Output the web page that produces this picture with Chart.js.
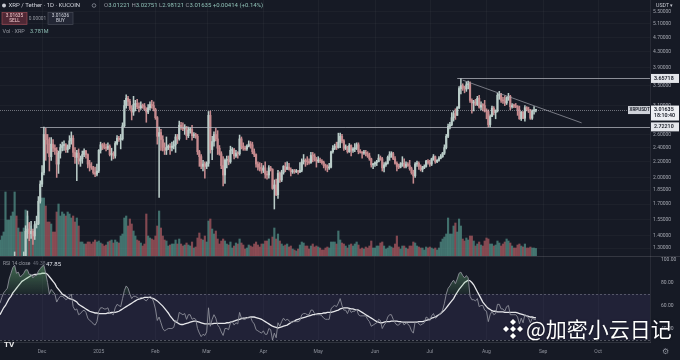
<!DOCTYPE html>
<html>
<head>
<meta charset="utf-8">
<script src="https://cdn.jsdelivr.net/npm/chart.js@4.4.1/dist/chart.umd.min.js"></script>
<style>
  html, body { margin: 0; padding: 0; background: #161a25; }
  #wrap { position: relative; width: 680px; height: 360px; overflow: hidden; background: #161a25; }
  canvas { position: absolute; left: 0; }
  #main { top: 0; }
  #rsi { top: 256px; }
</style>
</head>
<body>
<div id="wrap">
  <canvas id="main" width="680" height="256"></canvas>
  <canvas id="rsi" width="680" height="104"></canvas>
</div>
<script>
// daily XRP/USDT candles, index 0 = 2024-11-08, last = 2025-08-28
const open = [
  .545,.555,.594,.613,.63,.64,.72,.80,.99,1.13,1.07,1.13,1.08,1.11,1.20,1.44,1.46,1.42,1.44,1.40,1.50,1.51,1.73,
  1.92,2.06,2.60,2.52,2.45,2.27,2.45,2.39,2.36,2.17,2.32,2.40,2.43,2.44,2.37,2.41,2.50,2.54,2.33,2.26,2.32,2.21,2.24,2.30,2.35,2.30,2.17,2.14,2.12,2.06,2.04,
  2.08,2.36,2.44,2.43,2.40,2.39,2.42,2.30,2.31,2.28,2.46,2.54,2.52,2.53,2.74,3.10,3.24,3.18,3.05,2.98,3.12,3.14,3.08,3.06,3.10,3.09,3.03,2.98,3.06,3.12,3.10,
  3.03,2.88,2.57,2.63,2.52,2.40,2.36,2.40,2.42,2.40,2.42,2.44,2.56,2.53,2.75,2.71,2.69,2.72,2.58,2.67,2.68,2.58,2.60,2.57,2.34,2.27,2.14,2.17,
  2.14,2.18,2.92,2.37,2.49,2.60,2.53,2.39,2.31,2.15,2.03,2.22,2.23,2.20,2.36,2.37,2.28,2.32,2.31,2.53,2.42,2.39,2.38,2.42,2.45,2.44,2.34,2.30,2.17,2.13,2.11,
  2.09,2.12,2.04,2.03,2.12,2.10,1.87,1.91,1.80,2.05,1.97,2.06,2.14,2.10,2.13,2.10,2.07,2.08,2.07,2.08,2.07,2.09,2.20,2.22,2.21,2.20,2.19,2.29,2.28,2.23,
  2.21,2.22,2.21,2.19,2.15,2.14,2.12,2.13,2.34,2.39,2.42,2.40,2.48,2.57,2.50,2.39,2.41,2.34,2.43,2.36,2.38,2.39,2.44,2.34,2.33,2.32,2.33,2.31,2.28,2.24,2.16,
  2.17,2.19,2.20,2.25,2.24,2.12,2.16,2.18,2.26,2.30,2.31,2.24,2.18,2.14,2.13,2.17,2.18,2.14,2.17,2.15,2.11,2.06,2.02,2.17,2.18,2.14,2.10,2.12,2.14,2.21,
  2.19,2.17,2.24,2.27,2.20,2.22,2.25,2.27,2.32,2.40,2.57,2.73,2.76,2.88,2.95,2.92,3.06,3.44,3.50,3.46,3.43,3.52,3.54,3.20,3.15,3.16,3.12,3.24,3.07,3.11,3.10,
  3.00,2.99,2.76,2.90,3.05,2.97,3.00,3.30,3.31,3.20,3.19,3.15,3.25,3.28,3.08,3.10,3.09,3.08,3.02,2.86,2.98,2.87,3.06,3.03,3.00,2.87,3.00,3.01221
];
const high = [
  .57,.60,.64,.66,.68,.75,.84,1.03,1.27,1.16,1.19,1.16,1.15,1.27,1.49,1.63,1.52,1.53,1.46,1.53,1.58,1.78,1.96,
  2.15,2.72,2.70,2.60,2.55,2.55,2.52,2.44,2.40,2.35,2.45,2.48,2.50,2.46,2.44,2.58,2.64,2.58,2.40,2.36,2.38,2.28,2.35,2.38,2.36,2.31,2.22,2.19,2.14,2.13,2.17,
  2.37,2.48,2.46,2.47,2.45,2.47,2.44,2.39,2.34,2.49,2.58,2.57,2.60,2.79,3.20,3.31,3.28,3.22,3.10,3.28,3.20,3.22,3.15,3.17,3.13,3.14,3.06,3.12,3.17,3.20,3.17,
  3.05,2.90,2.72,2.68,2.58,2.47,2.56,2.44,2.46,2.48,2.50,2.60,2.60,2.82,2.80,2.79,2.76,2.73,2.72,2.71,2.75,2.63,2.62,2.60,2.36,2.30,2.22,2.20,
  2.20,2.99,3.00,2.57,2.64,2.70,2.66,2.43,2.34,2.27,2.24,2.28,2.28,2.42,2.40,2.39,2.36,2.34,2.59,2.56,2.47,2.42,2.44,2.50,2.49,2.48,2.38,2.31,2.20,2.19,2.18,
  2.15,2.20,2.08,2.15,2.14,2.11,1.97,1.98,2.09,2.07,2.09,2.15,2.19,2.20,2.18,2.12,2.10,2.10,2.10,2.09,2.19,2.24,2.30,2.24,2.27,2.24,2.33,2.33,2.31,2.26,
  2.27,2.25,2.23,2.21,2.17,2.16,2.18,2.35,2.43,2.45,2.48,2.62,2.62,2.60,2.52,2.44,2.42,2.46,2.44,2.40,2.46,2.47,2.47,2.37,2.34,2.36,2.36,2.34,2.32,2.25,2.18,
  2.20,2.22,2.30,2.28,2.26,2.19,2.20,2.28,2.34,2.34,2.33,2.27,2.20,2.17,2.19,2.27,2.24,2.20,2.19,2.22,2.13,2.09,2.19,2.21,2.20,2.16,2.14,2.16,2.22,2.23,
  2.22,2.25,2.30,2.28,2.23,2.27,2.30,2.33,2.44,2.60,2.77,2.80,2.97,3.00,3.04,3.08,3.48,3.657,3.54,3.49,3.58,3.60,3.58,3.23,3.20,3.22,3.28,3.30,3.17,3.14,3.20,
  3.04,3.02,2.93,3.09,3.08,3.02,3.34,3.38,3.34,3.26,3.29,3.27,3.34,3.30,3.14,3.13,3.14,3.10,3.09,2.99,2.99,3.10,3.08,3.07,3.03,3.02,3.08,3.02751
];
const low = [
  .535,.55,.58,.60,.60,.63,.70,.78,.95,1.01,1.03,1.04,1.07,1.09,1.18,1.38,1.36,1.38,1.33,1.37,1.47,1.50,1.71,
  1.89,2.03,2.22,2.32,2.08,2.22,2.34,2.30,2.00,2.05,2.25,2.35,2.36,2.33,2.33,2.38,2.45,2.27,2.18,1.96,2.17,2.14,2.18,2.27,2.25,2.12,2.08,2.10,2.04,2.01,2.02,
  2.06,2.32,2.37,2.38,2.35,2.37,2.28,2.22,2.24,2.25,2.44,2.49,2.38,2.51,2.72,3.05,3.10,3.02,2.84,2.92,3.00,3.04,2.98,3.03,3.05,3.01,2.80,2.95,3.02,3.05,3.00,
  2.85,2.45,1.77,2.36,2.35,2.30,2.30,2.37,2.30,2.35,2.38,2.33,2.46,2.51,2.68,2.66,2.60,2.52,2.55,2.62,2.51,2.55,2.54,2.30,2.14,2.11,2.08,1.99,
  2.11,2.14,2.32,2.23,2.42,2.50,2.30,2.29,2.11,1.90,1.93,2.12,2.16,2.18,2.31,2.24,2.26,2.25,2.29,2.38,2.36,2.36,2.36,2.41,2.39,2.31,2.27,2.13,2.09,2.08,2.05,
  2.06,1.99,1.98,1.99,2.08,1.86,1.65,1.79,1.76,1.94,1.95,2.04,2.07,2.10,2.09,2.02,2.05,2.05,2.06,2.04,2.06,2.07,2.17,2.14,2.16,2.17,2.18,2.20,2.21,2.13,
  2.19,2.19,2.17,2.12,2.09,2.07,2.10,2.12,2.32,2.37,2.37,2.39,2.40,2.47,2.36,2.37,2.32,2.33,2.28,2.33,2.34,2.37,2.31,2.32,2.25,2.30,2.28,2.26,2.22,2.13,2.11,
  2.14,2.15,2.20,2.22,2.08,2.07,2.14,2.17,2.22,2.26,2.23,2.17,2.08,2.11,2.12,2.14,2.12,2.12,2.14,2.09,2.04,1.93,2.00,2.14,2.10,2.08,2.07,2.11,2.13,2.17,
  2.14,2.15,2.22,2.18,2.19,2.21,2.24,2.26,2.30,2.38,2.55,2.69,2.74,2.82,2.85,2.92,3.04,3.33,3.40,3.35,3.38,3.43,3.16,2.96,3.00,3.10,3.10,3.05,3.02,3.00,2.98,
  2.86,2.72,2.72,2.90,2.93,2.86,2.98,3.22,3.16,3.14,3.10,3.12,3.20,3.02,3.05,3.06,3.06,2.92,2.85,2.83,2.86,2.82,3.00,2.97,2.85,2.85,2.94,2.98121
];
const close = [
  .555,.594,.613,.63,.64,.72,.80,.99,1.13,1.07,1.13,1.08,1.11,1.20,1.44,1.46,1.42,1.44,1.40,1.50,1.51,1.73,1.92,
  2.06,2.60,2.52,2.45,2.27,2.45,2.39,2.36,2.17,2.32,2.40,2.43,2.44,2.37,2.41,2.50,2.54,2.33,2.26,2.32,2.21,2.24,2.30,2.35,2.30,2.17,2.14,2.12,2.06,2.04,2.08,
  2.36,2.44,2.43,2.40,2.39,2.42,2.30,2.31,2.28,2.46,2.54,2.52,2.53,2.74,3.10,3.24,3.18,3.05,2.98,3.12,3.14,3.08,3.06,3.10,3.09,3.03,2.98,3.06,3.12,3.10,3.03,
  2.88,2.57,2.63,2.52,2.40,2.36,2.40,2.42,2.40,2.42,2.44,2.56,2.53,2.75,2.71,2.69,2.72,2.58,2.67,2.68,2.58,2.60,2.57,2.34,2.27,2.14,2.17,2.14,
  2.18,2.92,2.37,2.49,2.60,2.53,2.39,2.31,2.15,2.03,2.22,2.23,2.20,2.36,2.37,2.28,2.32,2.31,2.53,2.42,2.39,2.38,2.42,2.45,2.44,2.34,2.30,2.17,2.13,2.11,2.09,
  2.12,2.04,2.03,2.12,2.10,1.87,1.91,1.80,2.05,1.97,2.06,2.14,2.10,2.13,2.10,2.07,2.08,2.07,2.08,2.07,2.09,2.20,2.22,2.21,2.20,2.19,2.29,2.28,2.23,2.21,
  2.22,2.21,2.19,2.15,2.14,2.12,2.13,2.34,2.39,2.42,2.40,2.48,2.57,2.50,2.39,2.41,2.34,2.43,2.36,2.38,2.39,2.44,2.34,2.33,2.32,2.33,2.31,2.28,2.24,2.16,2.17,
  2.19,2.20,2.25,2.24,2.12,2.16,2.18,2.26,2.30,2.31,2.24,2.18,2.14,2.13,2.17,2.18,2.14,2.17,2.15,2.11,2.06,2.02,2.17,2.18,2.14,2.10,2.12,2.14,2.21,2.19,
  2.17,2.24,2.27,2.20,2.22,2.25,2.27,2.32,2.40,2.57,2.73,2.76,2.88,2.95,2.92,3.06,3.44,3.50,3.46,3.43,3.52,3.54,3.20,3.15,3.16,3.12,3.24,3.07,3.11,3.10,3.00,
  2.99,2.76,2.90,3.05,2.97,3.00,3.30,3.31,3.20,3.19,3.15,3.25,3.28,3.08,3.10,3.09,3.08,3.02,2.86,2.98,2.87,3.06,3.03,3.00,2.87,3.00,3.01221,3.01635
];
// volume, millions XRP
const volume = [
  8,10,12,32,18,18,20,22,32,20,14,12,12,14,23,20,16,15,12,12,15,22,27,
  29,29,25,17,17,16,12,12,22,26,20,22,21,20,22,21,19,20,17,19,15,7,7,6,6,7,7,6,7,8,7,
  7.5,6.5,6,5,5.5,7,7.5,8,6.5,8,7,6.5,10,11,19,20,15,18.5,16,12.5,10,8,7.5,6.5,5,6,21,10,9,8.5,8,
  10,15,22.5,14,10,8,7.5,5,5.5,6,6,8,6,8.5,6,5,5.5,6.5,5.5,5,7,4,4.5,9,11.5,8.5,8,10,
  7,17.5,18.5,13.5,11,12.5,8.5,6,7.5,8.5,7.5,6,5.5,7,4,5,6.5,6,8.5,6.5,5.5,3.5,4,5.5,5,4.5,6,7,5.5,4.5,6,
  6,7.5,7.5,8.5,5,9.5,14,8.5,11,7.5,6,5,5.5,6,4.5,5,3.5,3,2.5,3.5,5.5,7,6.5,5,5,3.5,5,6,4.5,5,
  4.5,4,3,3,4,4.5,4,7,7,7,6,12.5,8,6.5,6,5,4,5.5,6,5,6,7,5.5,3.5,4,3.5,4.5,4,5,7.5,4,
  4,5,5,6.5,7,5,3.5,4,5,4.5,4,6,10,4.5,3.5,5,5,4,3.5,5,5,7,6.5,5,4.5,4,4,3,4.5,4,
  4.5,4,3.5,4,3,4,7,8.5,9.5,11,19,11,11,15,16.5,12,18.5,15,8.5,7.5,9,8,10,10,7.5,5,6,7,5.5,5,7.5,
  9,8.5,6,6,5,5.5,7.5,6.5,5,6,7,8.5,7.5,6.5,5,4,4,5.5,6,5,4.5,6,4,4,4.5,4,4,3.78
];
const rsi = [
  62,67,71,73,75,83,88,93,95,88,89,85,86,88,91,91,87,87,84,86,86,90,92,
  94,95,88,80,70,74,72,70,63,66,68,68,67,65,66,68,70,59,56,57,52,53,55,56,54,49,47,46,44,43,46,
  55,58,58,57,57,58,53,53,52,58,61,60,59,66,73,77,75,70,66,68,68,67,66,67,67,65,64,66,68,67,63,
  57,47,50,45,40,38,39,40,40,40,41,47,46,54,53,52,53,48,52,52,48,49,48,40,36,33,35,34,
  37,58,42,48,52,49,43,41,37,34,40,40,39,45,46,43,45,44,54,49,48,48,49,50,50,46,44,39,38,37,36,
  38,35,35,40,39,30,36,32,45,42,46,49,47,48,47,45,46,46,46,46,47,52,53,53,52,52,56,56,53,52,
  52,52,51,49,48,48,48,57,59,60,59,62,66,60,56,56,53,57,54,55,55,57,52,51,51,51,51,48,46,42,43,
  44,45,48,47,40,43,45,50,52,52,48,45,43,43,45,46,43,45,44,42,38,36,46,46,44,43,44,45,50,49,
  47,51,53,49,50,52,53,56,62,70,75,77,80,82,79,83,88,89,86,84,86,84,68,65,65,64,66,59,60,60,56,
  55,46,52,55,52,53,61,61,57,57,55,59,60,52,52,52,52,50,44,49,45,52,51,49,45,49,48,47.85
];
const rsiMa = [
  52,55,58,60,63,66,68,71,73,75,77,79,81,82,83,84,85,86,86.5,87,87,87.5,87.5,
  88,88,88,87,85,83,81,79,76,74,72,70,69,68,67,66,65.5,65,64,63,61,60,59,58,57,56,55,54.5,54,53.5,53.5,
  53,53,53,53,53,53.5,53.5,54,54,54,54.5,55,56,57,58,59,60,61,62,63,64,65,65.5,66,66.5,67,67,67,67,66.5,66,
  65,64,62.5,61,59.5,57.5,55.5,53.5,51,49,47,46,45,44,43.5,43.5,44,44.5,45,45.5,46,46.5,46.5,46,45.5,45,44.5,44,
  44,44,44,44,44.5,44.5,44.5,44.5,44.5,44.5,44.5,45,45,45.5,46,46.5,47,47.5,48,48.5,49,49,49.5,49.5,50,50,50,49.5,49,48.5,48,
  47,46,45,44,43,42,41.5,41,40.5,41,41.5,42,42.5,43,44,45,46,46.5,47.5,48,48.5,49,49.5,50,50.5,51,51.5,52,52,52.5,
  53,53,53,53.5,53.5,54,54,54,54.5,55,55.5,56,57,57.5,58,58,58,57.5,57,57,56.5,56.5,56,55,54,53,52,51,50,49,48,
  47,46,45.5,45,45,45.5,46,46,46,46.5,46.5,46.5,46.5,46,46,45.5,45.5,45.5,45.5,45.5,45.5,45.5,45.5,45.5,46,46,46,46.5,47,47.5,
  48,49,49.5,50,51,52,53,54.5,56,58,60,62,64,66,69,71.5,74,76,78,80,81,82,81.5,80,78,75,72,69,66,63,61,
  59,57.5,56.5,55.5,55,55,54.5,54.5,54.5,54.5,54,54,54,54,54,54,54,53.5,53,52.5,52,51.5,51,50.5,50,50,49.5,49.38
];

const monthTicks = [23, 54, 85, 113, 144, 174, 205, 235, 266, 297, 327];
const monthLabels = ['Dec', '2025', 'Feb', 'Mar', 'Apr', 'May', 'Jun', 'Jul', 'Aug', 'Sep', 'Oct'];
const priceTicks = [5.5, 5.1, 4.7, 4.3, 3.9, 3.5, 3.1, 2.6, 2.4, 2.2, 2.0, 1.85, 1.7, 1.55, 1.4, 1.3];
const rsiTicks = [100, 80, 60, 40];

// drawings on the chart
const rayPrices = [2.7221, 3.65718];
const rayStarts = [22, 250];
const trendIdx = [253, 318];
const trendPrice = [3.62, 2.79];
const lastPrice = 3.01635;

const X_MAX = 355.4;
const FONT = "Roboto, 'Noto Sans', sans-serif";
const upC = '#b9ccc8', downC = '#c68a8e';
const isUp = i => close[i] >= open[i];
const candleColors = close.map((c, i) => isUp(i) ? upC : downC);

const mainOverlay = {
  id: 'mainOverlay',
  beforeDatasetsDraw(chart) {
    const { ctx, chartArea: a, scales: { x } } = chart;
    ctx.save();
    ctx.strokeStyle = 'rgba(255,255,255,0.035)';
    ctx.lineWidth = 1;
    monthTicks.forEach(t => {
      const px = Math.round(x.getPixelForValue(t)) + 0.5;
      ctx.beginPath(); ctx.moveTo(px, a.top); ctx.lineTo(px, a.bottom); ctx.stroke();
    });
    ctx.restore();
  },
  afterDatasetsDraw(chart) {
    const { ctx, chartArea: a, scales: { x, y } } = chart;
    ctx.save();
    ctx.lineWidth = 1;
    ctx.strokeStyle = 'rgba(190,192,200,0.7)';
    rayPrices.forEach((p, k) => {
      const py = Math.round(y.getPixelForValue(p)) + 0.5;
      ctx.beginPath(); ctx.moveTo(x.getPixelForValue(rayStarts[k]), py); ctx.lineTo(a.right, py); ctx.stroke();
    });
    ctx.strokeStyle = 'rgba(170,172,182,0.65)';
    ctx.beginPath();
    ctx.moveTo(x.getPixelForValue(trendIdx[0]), y.getPixelForValue(trendPrice[0]));
    ctx.lineTo(x.getPixelForValue(trendIdx[1]), y.getPixelForValue(trendPrice[1]));
    ctx.stroke();
    const lp = Math.round(y.getPixelForValue(lastPrice)) + 0.5;
    ctx.strokeStyle = 'rgba(200,202,210,0.5)';
    ctx.setLineDash([1, 1]);
    ctx.beginPath(); ctx.moveTo(a.left, lp); ctx.lineTo(a.right, lp); ctx.stroke();
    ctx.restore();
  },
  afterDraw(chart) {
    const { ctx, chartArea: a, scales: { y } } = chart;
    ctx.save();
    ctx.textBaseline = 'middle';
    // price scale tags
    const tag = (p, lines, bg) => {
      const cy = y.getPixelForValue(p);
      const h = lines.length > 1 ? 15 : 9;
      ctx.fillStyle = bg;
      ctx.fillRect(a.right + 1, cy - 4.5, 28, h);
      ctx.fillStyle = '#131722';
      ctx.font = '600 5.3px ' + FONT;
      ctx.textAlign = 'left';
      lines.forEach((t, k) => ctx.fillText(t, a.right + 4, cy + k * 6));
    };
    tag(3.65718, ['3.65718'], '#e3e5ea');
    tag(2.7221, ['2.72210'], '#e3e5ea');
    tag(lastPrice, ['3.01635', '18:10:40'], '#eceef2');
    const cy = y.getPixelForValue(lastPrice);
    ctx.fillStyle = '#cfd2d9';
    ctx.fillRect(a.right - 22, cy - 4, 22, 8);
    ctx.fillStyle = '#131722';
    ctx.font = '600 4.6px ' + FONT;
    ctx.fillText('XRPUSDT', a.right - 20.5, cy);
    ctx.fillStyle = '#c5c8d0';
    ctx.font = '5.3px ' + FONT;
    ctx.fillText('USDT \u25BE', 656, 5.5);

    // legend, row 1
    ctx.fillStyle = '#c8cbd3';
    ctx.beginPath(); ctx.arc(4, 5.5, 2, 0, Math.PI * 2); ctx.fill();
    ctx.font = '6px ' + FONT;
    ctx.fillStyle = '#d1d4dc';
    ctx.fillText('XRP / Tether \u00B7 1D \u00B7 KUCOIN', 8.5, 5.5);
    ctx.strokeStyle = '#8a8f99'; ctx.lineWidth = 0.8;
    ctx.beginPath(); ctx.arc(94, 5.5, 1.8, 0, Math.PI * 2); ctx.stroke();
    let tx = 104;
    const seg = (t, c) => { ctx.fillStyle = c; ctx.fillText(t, tx, 5.5); tx += ctx.measureText(t).width; };
    const lab = '#9598a1', val = '#8fc0b6';
    seg('O', lab); seg('3.01221 ', val); seg('H', lab); seg('3.02751 ', val);
    seg('L', lab); seg('2.98121 ', val); seg('C', lab); seg('3.01635 +0.00414 (+0.14%)', val);

    // row 2, sell / buy
    ctx.fillStyle = 'rgba(190,70,82,0.35)'; ctx.fillRect(2, 12.5, 25, 12);
    ctx.strokeStyle = '#9b4a54'; ctx.lineWidth = 0.7; ctx.strokeRect(2, 12.5, 25, 12);
    ctx.fillStyle = 'rgba(36,40,54,0.95)'; ctx.fillRect(48, 12.5, 25, 12);
    ctx.strokeStyle = '#474b57'; ctx.strokeRect(48, 12.5, 25, 12);
    ctx.textAlign = 'center';
    ctx.font = '4.8px ' + FONT;
    ctx.fillStyle = '#efc6ca'; ctx.fillText('3.01635', 14.5, 16.3); ctx.fillText('SELL', 14.5, 21.3);
    ctx.fillStyle = '#d1d4dc'; ctx.fillText('3.01636', 60.5, 16.3); ctx.fillText('BUY', 60.5, 21.3);
    ctx.fillStyle = '#9598a1'; ctx.fillText('0.00001', 37.5, 18.5);

    // row 3, volume
    ctx.textAlign = 'left';
    ctx.font = '5.5px ' + FONT;
    ctx.fillStyle = '#9598a1'; ctx.fillText('Vol \u00B7 XRP', 2.5, 32);
    ctx.fillStyle = '#8fc0b6'; ctx.fillText('3.781M', 30, 32);
    ctx.restore();
  }
};

new Chart(document.getElementById('main'), {
  type: 'bar',
  data: {
    datasets: [
      {
        label: 'Volume',
        data: volume.map((v, i) => ({ x: i, y: v })),
        yAxisID: 'yv',
        backgroundColor: volume.map((v, i) => isUp(i) ? 'rgba(84,150,140,0.7)' : 'rgba(178,92,100,0.7)'),
        barThickness: 1.5, grouped: false, order: 3, clip: 0
      },
      {
        label: 'Wick',
        data: high.map((h, i) => ({ x: i, y: [low[i], h] })),
        yAxisID: 'y',
        backgroundColor: candleColors,
        barThickness: 0.9, grouped: false, order: 2, clip: 0
      },
      {
        label: 'Body',
        data: open.map((o, i) => ({ x: i, y: [Math.min(o, close[i]), Math.max(o, close[i])] })),
        yAxisID: 'y',
        backgroundColor: candleColors,
        barThickness: 1.5, minBarLength: 1, grouped: false, order: 1, clip: 0
      }
    ]
  },
  options: {
    responsive: false,
    animation: false,
    layout: { padding: 0 },
    plugins: { legend: { display: false }, tooltip: { enabled: false } },
    scales: {
      x: { type: 'linear', min: 0, max: X_MAX, offset: false, display: false },
      y: {
        type: 'logarithmic', position: 'right', min: 1.239, max: 5.90,
        afterBuildTicks: s => { s.ticks = priceTicks.map(v => ({ value: v })); },
        afterFit: s => { s.width = 30; s.paddingTop = 0; s.paddingBottom = 0; },
        grid: { color: 'rgba(255,255,255,0.03)', drawTicks: false },
        border: { display: true, color: 'rgba(255,255,255,0.08)' },
        ticks: { color: '#a3a6af', font: { size: 5, family: FONT }, padding: 3, callback: v => Number(v).toFixed(5) }
      },
      yv: { display: false, min: 0, max: 128 }
    }
  },
  plugins: [mainOverlay]
});

const rsiCanvas = document.getElementById('rsi');
const greenFill = rsiCanvas.getContext('2d').createLinearGradient(0, 0, 0, 38);
greenFill.addColorStop(0, 'rgba(110,190,125,0.6)');
greenFill.addColorStop(1, 'rgba(110,190,125,0.08)');

const rsiOverlay = {
  id: 'rsiOverlay',
  beforeDatasetsDraw(chart) {
    const { ctx, chartArea: a, scales: { y } } = chart;
    const y70 = y.getPixelForValue(70), y30 = y.getPixelForValue(30);
    ctx.save();
    ctx.fillStyle = 'rgba(126,100,210,0.11)';
    ctx.fillRect(a.left, y70, a.right - a.left, y30 - y70);
    ctx.strokeStyle = 'rgba(150,152,165,0.45)';
    ctx.lineWidth = 1;
    ctx.setLineDash([2, 2]);
    [y70, y30].forEach(py => {
      ctx.beginPath(); ctx.moveTo(a.left, Math.round(py) + 0.5); ctx.lineTo(a.right, Math.round(py) + 0.5); ctx.stroke();
    });
    ctx.restore();
  },
  afterDraw(chart) {
    const { ctx } = chart;
    ctx.save();
    ctx.strokeStyle = 'rgba(255,255,255,0.13)';
    ctx.lineWidth = 1;
    ctx.beginPath(); ctx.moveTo(0, 0.5); ctx.lineTo(680, 0.5); ctx.stroke();
    ctx.textBaseline = 'middle';
    ctx.textAlign = 'left';
    ctx.font = '5px ' + FONT;
    ctx.fillStyle = '#9598a1'; ctx.fillText('RSI 14 close', 3, 8);
    ctx.fillStyle = '#6b6f7a'; ctx.fillText('49.38', 33, 8);
    ctx.font = '6px ' + FONT;
    ctx.fillStyle = '#e0e3eb'; ctx.fillText('47.85', 46, 8);
    ctx.font = 'bold 8px ' + FONT;
    ctx.fillStyle = '#e8e8e8'; ctx.fillText('TV', 4, 89);
    ctx.font = '8px DejaVu Sans';
    ctx.fillStyle = '#8a8e99'; ctx.fillText('\u2699', 662, 96);

    // watermark
    const cx = 513, cy = 73;
    const diamond = (dx, dy, r) => {
      ctx.beginPath();
      ctx.moveTo(cx + dx, cy + dy - r); ctx.lineTo(cx + dx + r, cy + dy);
      ctx.lineTo(cx + dx, cy + dy + r); ctx.lineTo(cx + dx - r, cy + dy);
      ctx.closePath(); ctx.fill();
    };
    ctx.shadowColor = 'rgba(0,0,0,0.5)'; ctx.shadowBlur = 2;
    ctx.fillStyle = '#ffffff';
    diamond(0, 0, 3); diamond(0, -7, 3); diamond(0, 7, 3); diamond(-7, 0, 3); diamond(7, 0, 3);
    ctx.font = "21px 'Noto Sans CJK SC', sans-serif";
    ctx.fillText('@\u52A0\u5BC6\u5C0F\u4E91\u65E5\u8BB0', 526, cy);
    ctx.restore();
  }
};

new Chart(rsiCanvas, {
  type: 'line',
  data: {
    datasets: [
      {
        label: 'RSI',
        data: rsi.map((v, i) => ({ x: i, y: v })),
        borderColor: '#8d909a', borderWidth: 0.9, pointRadius: 0,
        fill: { target: { value: 70 }, above: greenFill, below: 'rgba(0,0,0,0)' }
      },
      {
        label: 'RSI-based MA',
        data: rsiMa.map((v, i) => ({ x: i, y: v })),
        borderColor: '#e6e7ea', borderWidth: 1.3, pointRadius: 0, fill: false
      }
    ]
  },
  options: {
    responsive: false,
    animation: false,
    layout: { padding: 0 },
    plugins: { legend: { display: false }, tooltip: { enabled: false } },
    scales: {
      x: {
        type: 'linear', min: 0, max: X_MAX, offset: false,
        afterBuildTicks: s => { s.ticks = monthTicks.map(v => ({ value: v })); },
        afterFit: s => { s.height = 18; s.paddingLeft = 0; s.paddingRight = 0; },
        grid: { color: 'rgba(255,255,255,0.03)', drawTicks: false },
        border: { display: true, color: 'rgba(255,255,255,0.1)' },
        ticks: {
          color: '#8e929c', font: { size: 5, family: FONT }, padding: 7, maxRotation: 0, autoSkip: false,
          callback: v => monthLabels[monthTicks.indexOf(v)]
        }
      },
      y: {
        type: 'linear', position: 'right', min: 28.3, max: 103,
        afterBuildTicks: s => { s.ticks = rsiTicks.map(v => ({ value: v })); },
        afterFit: s => { s.width = 30; s.paddingTop = 0; s.paddingBottom = 0; },
        grid: { display: false },
        border: { display: true, color: 'rgba(255,255,255,0.08)' },
        ticks: { color: '#a3a6af', font: { size: 5, family: FONT }, padding: 3, callback: v => Number(v).toFixed(2) }
      }
    }
  },
  plugins: [rsiOverlay]
});
</script>
</body>
</html>
